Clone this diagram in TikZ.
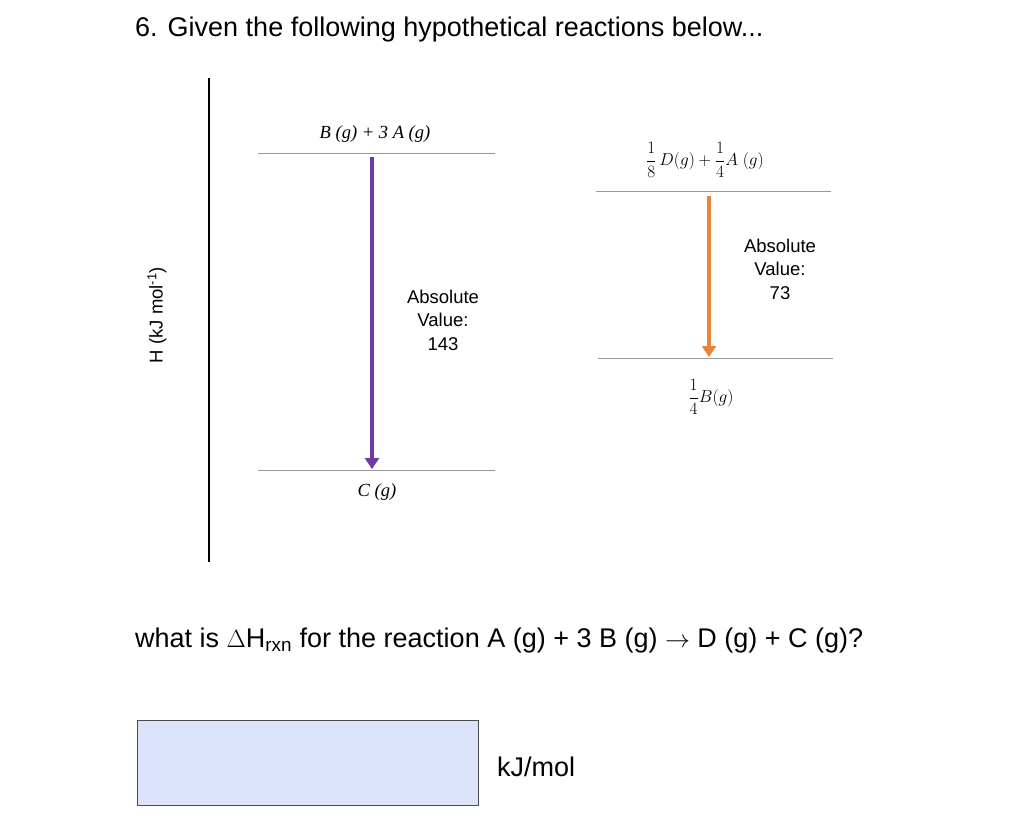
\documentclass[tikz,border=0pt]{standalone}
\usepackage{fontspec}
\setmainfont{Liberation Sans}
\newfontfamily\cam{Liberation Serif}
\usetikzlibrary{arrows.meta}
\definecolor{purp}{RGB}{112,58,160}
\definecolor{orng}{RGB}{232,132,60}
\definecolor{boxb}{RGB}{220,228,252}
\begin{document}
\begin{tikzpicture}[x=1pt,y=-1pt,
  lvl/.style={draw=gray!80,line width=0.8pt},
  txt/.style={inner sep=0pt,font=\fontsize{18.5}{23.5}\selectfont},
  eq/.style={inner sep=0pt,font=\cam\itshape\fontsize{18.5}{22}\selectfont},
  big/.style={inner sep=0pt,anchor=west,font=\fontsize{27}{32}\selectfont},
  arr/.style={line width=4pt,-{Triangle[length=11pt,width=14pt]}}]
\useasboundingbox (0,0) rectangle (1024,822);
\node[big] (title) at (135,30) {6. Given the following hypothetical reactions below...};
\coordinate (at) at (209,78); \coordinate (ab) at (209,562);
\draw[line width=1.2pt] (at) -- (ab);
\node[txt,rotate=90] (hl) at (157,315) {H (kJ mol\textsuperscript{-1})};
% left
\coordinate (l1a) at (258,153); \coordinate (l1b) at (495,153);
\draw[lvl] (l1a) -- (l1b);
\node[eq] (bla) at (375,134) {B (g) + 3 A (g)};
\coordinate (l2a) at (258,470); \coordinate (l2b) at (495,470);
\draw[lvl] (l2a) -- (l2b);
\node[eq] (cg) at (377,492) {C (g)};
\coordinate (p1) at (372,157); \coordinate (p2) at (372,469);
\draw[arr,purp] (p1) -- (p2);
\node[txt,align=center] (abs1) at (443,320) {Absolute\\Value:\\143};
% right
\coordinate (r1a) at (596,191); \coordinate (r1b) at (831,191);
\draw[lvl] (r1a) -- (r1b);
\node[eq] (dla) at (705,160) {$\displaystyle\frac{1}{8}\,D(g)+\frac{1}{4}A\;(g)$};
\coordinate (r2a) at (598,358); \coordinate (r2b) at (833,358);
\draw[lvl] (r2a) -- (r2b);
\node[eq] (bg) at (711,397) {$\displaystyle\frac{1}{4}B(g)$};
\coordinate (o1) at (709,196); \coordinate (o2) at (709,357);
\draw[arr,orng] (o1) -- (o2);
\node[txt,align=center] (abs2) at (780,269) {Absolute\\Value:\\73};
% question
\node[big] (q) at (135,641) {what is $\Delta$H\textsubscript{rxn} for the reaction A (g) + 3 B (g) $\rightarrow$ D (g) + C (g)?};
\node[draw=gray!60!black,fill=boxb,line width=1pt,minimum width=341pt,minimum height=85pt,anchor=north west] (box) at (137,720) {};
\node[big] (unit) at (497,767) {kJ/mol};
\end{tikzpicture}
\end{document}
